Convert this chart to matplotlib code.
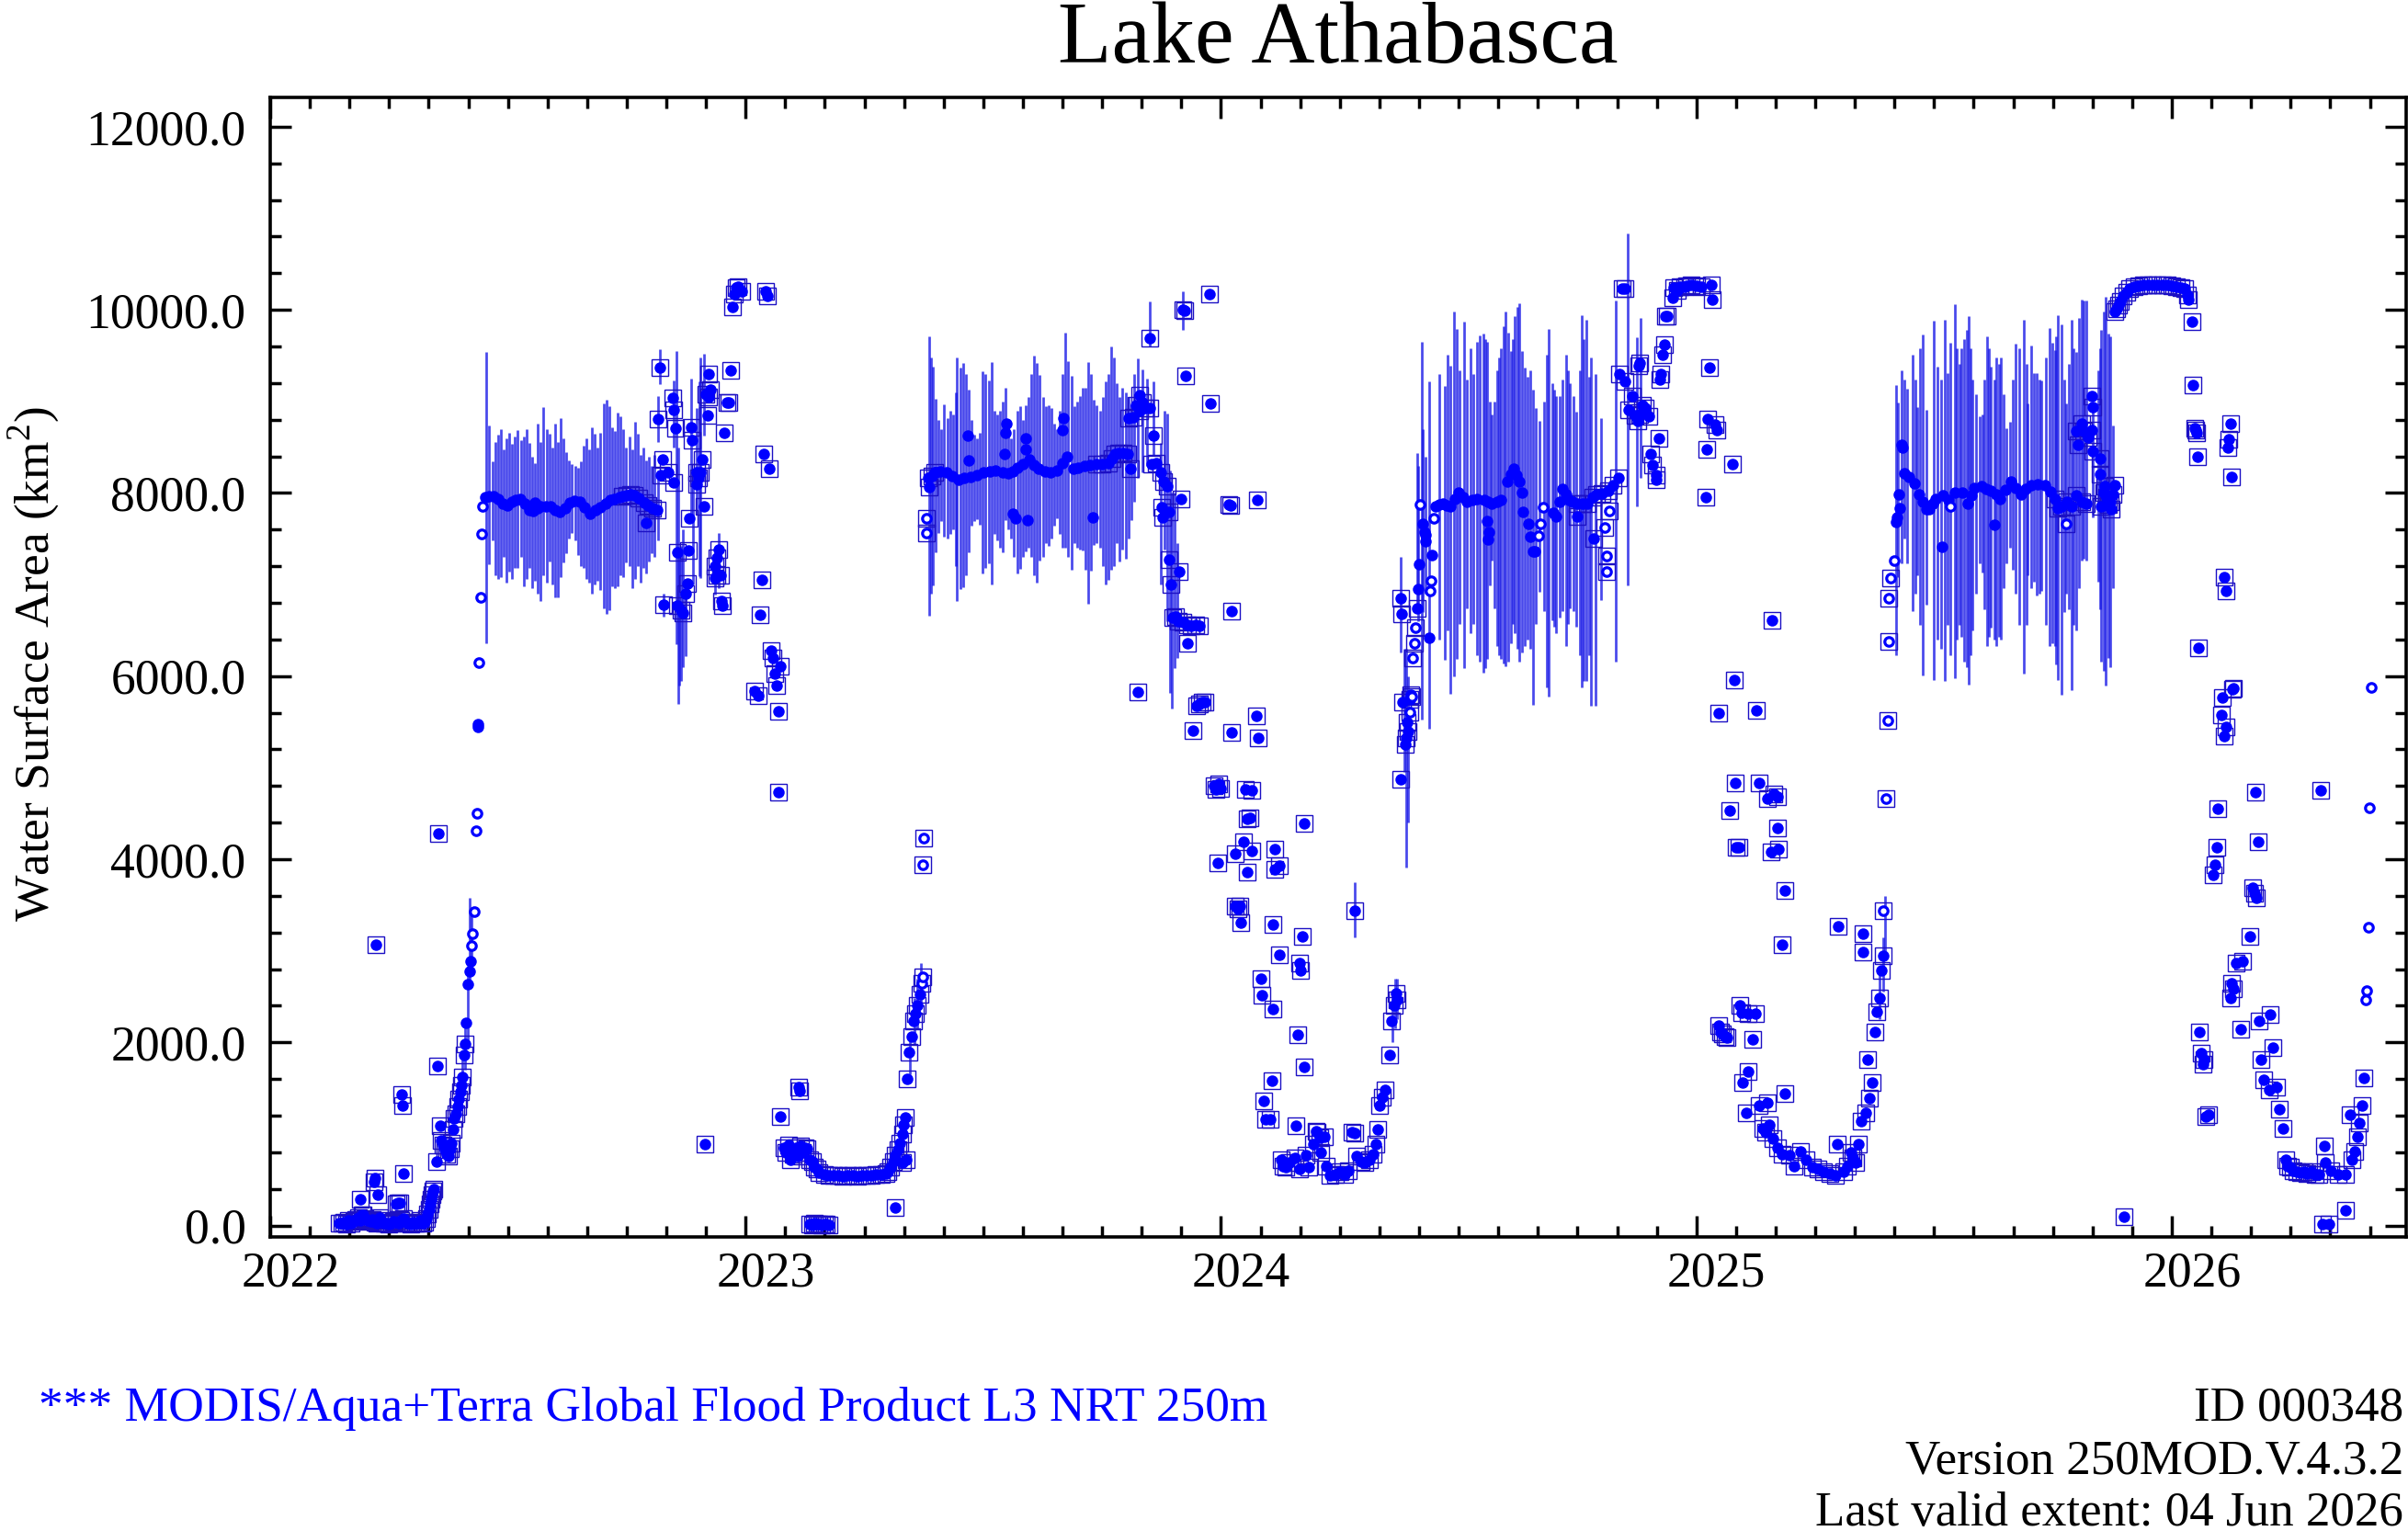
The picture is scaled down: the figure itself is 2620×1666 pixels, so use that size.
import numpy as np
import matplotlib
matplotlib.use("Agg")
import matplotlib.pyplot as plt
from matplotlib.ticker import MultipleLocator, FixedLocator, NullFormatter
from matplotlib.transforms import ScaledTranslation

plt.rcParams['font.family'] = ['Liberation Serif', 'DejaVu Serif']
plt.rcParams['mathtext.fontset'] = 'custom'
plt.rcParams['mathtext.rm'] = 'Liberation Serif'

BASE_YEAR = 2022
YEAR_TICKS = [2022, 2023, 2024, 2025, 2026]
AREA_TICKS = [0, 2000, 4000, 6000, 8000, 10000, 12000]

# Spread of each daily extent: (years after base, upper, lower) in km2
bars_2022 = [
 (.455,9540,6360),(.461,8740,7220),(.467,8350,7480),(.473,8560,7100),(.479,8640,7060),(.485,8700,7080),
 (.491,8480,7300),(.497,8600,7020),(.503,8660,7140),(.509,8540,7060),(.515,8620,7180),(.521,8690,7180),
 (.527,8580,7300),(.533,8620,6980),(.539,8700,7060),(.545,8550,7180),(.551,8400,6960),(.557,8330,7040),
 (.563,8760,6900),(.569,8560,6820),(.575,8940,7100),(.581,8700,7020),(.587,8650,7250),(.593,8500,7000),
 (.599,8760,6860),(.605,8560,6860),(.611,8820,7080),(.617,8600,7240),(.623,8450,7340),(.629,8360,7500),
 (.635,8320,7560),(.641,8300,7480),(.647,8280,7320),(.653,8350,7200),(.659,8520,7180),(.665,8600,7060),
 (.671,8480,7020),(.677,8720,6900),(.683,8650,7000),(.689,8500,7040),(.695,8660,6940),(.701,8980,6740),
 (.707,9020,6680),(.713,8950,6720),(.719,8720,6980),(.725,8680,6960),(.731,8880,6980),(.737,8840,7100),
 (.743,8700,7080),(.749,8500,7240),(.755,8620,7200),(.761,8480,6960),(.767,8780,7060),(.773,8650,7200),
 (.779,8420,7020),(.785,8500,7180),(.791,8360,7120),(.797,8400,7250),(.803,8300,7340),(.809,8420,7300),
 (.815,8250,7480),(.819,9568,9190),(.816,9060,8560),(.827,6900,6650),(.849,9230,8500),(.855,9555,6350),
 (.859,8500,5700),(.861,7300,5900),(.865,7420,5950),(.869,7600,6100),(.873,7020,6220),(.885,9250,7690),
 (.89,8200,7000),(.897,8930,7760),(.903,9215,7090),(.905,9480,7075),(.912,9520,8630),(.936,7160,6890),
 (.944,7560,6960),
]

bars_2023 = [
 (1.387,9708,6660),(1.391,9484,6904),(1.394,9383,6988),(1.400,9032,7357),(1.406,8800,7560),(1.412,8700,7692),
 (1.418,8965,7524),(1.424,8820,7500),(1.430,8898,7550),(1.436,8860,7600),(1.442,9100,7200),(1.445,9484,6821),
 (1.451,9367,6955),(1.457,9417,6971),(1.463,9300,7100),(1.469,9132,7357),(1.475,8800,7640),(1.481,8640,7692),
 (1.487,8600,7710),(1.493,8660,7650),(1.499,9333,7122),(1.505,9300,7180),(1.511,9230,7230),(1.517,9434,7005),
 (1.523,8900,7550),(1.529,8860,7480),(1.535,8900,7400),(1.541,9000,7350),(1.547,9149,7700),(1.553,8800,7600),
 (1.559,8600,7500),(1.565,8700,7300),(1.571,8900,7120),(1.577,8950,7170),(1.583,8800,7300),(1.589,8960,7360),
 (1.595,9050,7400),(1.601,9300,7300),(1.607,9500,7100),(1.613,9420,7022),(1.619,9290,7260),(1.625,9050,7300),
 (1.631,8950,7450),(1.637,8960,7420),(1.643,8930,7500),(1.649,8760,7640),(1.655,8700,7720),(1.661,8900,7550),
 (1.667,9300,7400),(1.673,9752,7400),(1.679,9440,7300),(1.685,9280,7160),(1.691,8950,7450),(1.697,9000,7400),
 (1.703,9060,7380),(1.709,9150,7370),(1.715,9150,7160),(1.721,9430,6787),(1.727,9300,7150),(1.733,9020,7430),
 (1.739,8960,7450),(1.745,8900,7400),(1.751,9050,7200),(1.757,9220,7000),(1.763,9300,7050),(1.769,9600,7160),
 (1.775,9480,7200),(1.781,9200,7450),(1.787,9050,7250),(1.793,9150,7380),(1.799,9100,7280),(1.805,9050,7500),
 (1.811,8970,7700),(1.817,9300,7900),(1.825,9467,8160),(1.835,9350,8230),(1.845,9250,8300),(1.851,10090,9600),
 (1.858,9220,8410),(1.874,8550,7000),(1.881,8900,7380),(1.887,8870,6600),(1.893,8250,5816),(1.897,8000,5648),
 (1.903,8000,6084),(1.909,7450,6200),(1.92,10200,9780),
]

bars_2024 = [
 (2.377,7300,6260),(2.386,6295,4950),(2.389,6300,3910),(2.393,6000,4400),(2.412,8440,6744),(2.415,8300,6600),
 (2.422,9650,5530),(2.425,8700,6700),(2.431,8400,6900),(2.437,9220,5430),
 (2.460,9304,6398),(2.470,9166,6173),(2.476,9512,6500),(2.483,9390,5810),(2.491,9979,6000),(2.496,9789,6190),
 (2.502,9339,6571),(2.511,9875,6087),(2.518,9235,6744),(2.525,9581,6467),(2.531,9304,6571),(2.538,9650,6225),
 (2.544,9720,6156),(2.551,9737,6035),(2.556,9685,6087),(2.560,9650,6190),(2.565,8993,6986),(2.570,8855,7263),
 (2.575,8993,6744),(2.580,9339,6329),(2.584,9477,6225),(2.589,9581,6190),(2.594,9823,6138),(2.599,9979,6104),
 (2.604,9754,6156),(2.609,9546,6363),(2.614,9685,6570),(2.618,9927,6467),(2.623,10031,6295),(2.627,10072,6156),
 (2.633,9546,6260),(2.638,9374,6329),(2.644,9270,6400),(2.650,9339,6294),(2.657,9131,5689),(2.663,8930,6570),
 (2.670,8785,6917),(2.680,8993,6710),(2.686,9512,5880),(2.690,9789,5775),(2.696,9200,6606),(2.700,9130,6540),
 (2.705,9062,6467),(2.712,9062,6640),(2.718,9235,6709),(2.725,9512,6329),(2.730,9339,6570),(2.734,9200,6744),
 (2.741,9062,6710),(2.747,8889,6536),(2.754,9339,6225),(2.759,9944,5879),(2.763,9685,5948),(2.768,9892,5948),
 (2.774,9270,6225),(2.779,9477,5671),(2.787,9304,5671),(2.799,8820,6830),(2.830,10100,6156),(2.855,10830,6990),
 (2.875,9702,7851),(2.882,9910,8163),
]

bars_2025 = [
 (3.42,9176,6228),(3.423,8990,7080),(3.432,9343,7233),(3.437,9243,7500),(3.444,9143,7233),(3.455,9511,6714),
 (3.46,9243,6898),(3.465,8941,7099),(3.471,9578,6563),(3.476,9729,6010),(3.483,8908,6780),(3.5,9879,5960),
 (3.507,9377,6395),(3.515,9243,6295),(3.522,9896,5943),(3.529,9310,6563),(3.534,9645,6228),(3.543,10064,5977),
 (3.548,9578,6395),(3.553,9410,6563),(3.558,9578,6429),(3.564,9678,6161),(3.569,9779,6094),(3.573,9930,5910),
 (3.577,9578,6228),(3.581,9243,6496),(3.588,9075,6898),(3.595,8841,7233),(3.602,8858,7132),(3.606,9243,6730),
 (3.611,9712,6328),(3.615,9578,6429),(3.62,9377,6529),(3.626,9243,6395),(3.631,9477,6328),(3.636,9410,6429),
 (3.641,9477,6395),(3.647,9075,6965),(3.652,8707,7233),(3.659,8774,7400),(3.666,9243,7166),(3.671,9628,6898),
 (3.68,9578,6563),(3.688,9896,6027),(3.694,9410,6563),(3.697,8975,7099),(3.704,9611,6965),(3.71,9310,7032),
 (3.715,9310,6881),(3.721,9243,6898),(3.726,9226,6931),(3.735,9477,6563),(3.743,9796,6328),(3.749,9645,6362),
 (3.754,9561,6328),(3.757,9712,6127),(3.761,9946,5960),(3.768,9846,5792),(3.773,9243,6697),(3.778,8975,6898),
 (3.784,9410,6730),(3.789,9896,5843),(3.794,9578,6563),(3.799,9544,6496),(3.805,9913,6965),(3.81,10114,7266),
 (3.815,10097,7283),(3.82,10097,7266),(3.834,8908,7735),(3.845,9343,7032),(3.849,9578,6730),(3.852,9779,6161),
 (3.857,9980,6060),(3.861,10147,5893),(3.866,9745,6194),(3.87,9712,6094),(3.877,8740,6965),
]

# Narrow spreads on the spring rise of each year
bars_rise = [
 (.405,1900,1400),(.410,2250,1700),(.415,2840,2000),(.42,3580,2600),(.424,3400,2800),
 (1.345,2100,1650),(1.355,2480,1980),(1.362,2700,2150),(1.368,2870,2400),
 (2.36,2500,2000),(2.366,2700,2150),(2.37,2700,2250),(2.281,3750,3150),
 (3.386,2750,2250),(3.392,3150,2550),(3.396,3600,3000),
]

# Boxed, filled observations per season: (years after base, area)
boxed_2022 = [
 (.145,30),(.15,25),(.155,40),(.16,20),(.165,60),(.17,30),(.175,50),(.18,70),(.185,90),(.19,60),(.195,120),(.2,80),
 (.205,60),(.21,50),(.215,70),(.22,40),(.225,30),(.23,60),(.235,40),(.24,30),(.245,25),(.25,20),(.255,30),(.26,50),
 (.265,40),(.27,25),(.275,60),(.28,80),(.285,40),(.29,30),(.295,20),(.3,40),(.305,30),(.31,25),(.315,60),(.32,30),
 (.223,3070),(.354,4280),(.352,1745),(.276,1430),(.278,1315),(.28,565),(.19,290),(.227,340),(.22,515),(.218,480),
 (.268,250),(.264,240),(.272,245),(.193,115),(.23,85),
 (.325,40),(.328,80),(.331,130),(.334,180),(.336,240),(.338,290),(.341,340),(.345,400),(.343,380),(.349,700),
 (.36,930),(.364,880),(.368,830),(.372,780),(.376,760),(.378,840),(.38,900),(.358,1090),(.384,1050),(.387,1165),
 (.39,1220),(.394,1300),(.397,1380),(.4,1465),(.402,1530),(.404,1625),(.408,1860),(.41,1980),
 (.74,7960),(.75,7970),(.757,7980),(.766,7975),(.776,7940),(.786,7890),(.795,7860),(.804,7830),(.814,7810),
 (.79,7675),(.819,9373),(.816,8804),(.826,8362),(.822,8194),(.837,8228),(.849,8110),(.846,9042),(.849,8908),
 (.852,8707),(.827,6780),(.857,7357),(.879,7374),(.877,7012),(.873,6905),(.857,6771),(.865,6720),(.869,6687),
 (.885,8714),(.887,8580),(.882,7725),(.912,7853),(.909,8362),(.897,8228),(.901,8160),(.897,8094),(.905,8228),
 (.923,9300),(.927,9132),(.916,9082),(.922,9048),(.92,8848),(.969,9340),(.956,8657),(.944,7384),(.94,7290),
 (.936,7206),(.94,7105),(.935,7072),(.948,7105),(.95,6820),(.952,6770),(.961,8992),(.965,8992),
 (1.038,8429),(1.049,8261),(1.035,7049),(1.031,6673),(1.053,6278),(1.058,6200),(1.073,6107),(1.062,6023),
 (1.065,5893),(1.019,5833),(1.027,5782),(1.069,5615),(1.043,10204),(1.046,10154),(.972,10027),(.98,10238),
 (.991,10204),(.976,10170),(.985,10250),(.914,890),(1.069,4730),
]

boxed_2023 = [
 (1.073,1190),(1.111,1510),(1.113,1470),(1.08,850),(1.085,800),(1.09,880),(1.095,720),(1.1,780),(1.105,850),
 (1.11,760),(1.115,870),(1.12,800),(1.125,850),(1.13,840),(1.135,720),(1.14,700),(1.145,640),(1.15,620),(1.155,580),
 (1.135,20),(1.14,10),(1.145,25),(1.15,15),(1.155,20),(1.16,10),(1.165,20),(1.17,15),(1.175,10),
 (1.165,560),(1.175,550),(1.185,545),(1.195,550),(1.205,540),(1.215,545),(1.225,550),(1.235,540),(1.245,545),
 (1.255,550),(1.265,545),(1.275,555),(1.285,560),(1.295,570),(1.3,590),(1.305,640),(1.31,700),(1.315,770),(1.32,830),
 (1.325,900),(1.33,1000),(1.333,1100),(1.335,1180),(1.33,690),(1.337,720),(1.315,200),(1.34,1600),(1.344,1890),
 (1.35,2060),(1.354,2230),(1.358,2310),(1.362,2400),(1.366,2520),
 (1.384,8160),(1.387,8060),(1.392,8190),(1.397,8228),
 (1.738,8311),(1.75,8320),(1.764,8328),(1.77,8380),(1.777,8429),(1.785,8440),(1.795,8435),(1.803,8429),(1.809,8261),
 (1.829,9065),(1.841,8931),(1.816,8831),(1.806,8814),(1.851,8931),(1.829,8898),(1.822,8960),(1.835,8990),(1.858,8630),
 (1.864,8328),(1.854,8311),(1.874,8228),(1.88,8127),(1.887,8077),(1.916,7933),(1.876,7843),(1.89,7792),(1.878,7732),
 (1.891,7273),(1.912,7146),(1.894,6998),(1.905,6653),(1.899,6640),(1.91,6600),(1.919,6586),(1.93,6560),(1.938,6553),
 (1.946,6555),(1.954,6553),(1.929,6358),(1.975,10177),(1.92,9997),(1.923,9990),(1.851,9688),(1.926,9276),(1.978,8982),
 (2.077,7926),(2.017,7873),(2.02,7860),(2.022,6714),(1.825,5822),(1.961,5715),(1.948,5680),(1.955,5700),(1.966,5720),
 (2.075,5565),(1.941,5400),
]

boxed_2024 = [
 (2.023,5386),(2.078,5320),(1.985,4800),(1.99,4760),(1.995,4820),(2.0,4770),(2.052,4765),(2.065,4750),(2.175,4396),
 (1.994,3960),(2.03,4060),(2.048,4195),(2.06,4447),(2.056,4440),(2.065,4094),(2.055,3860),(2.113,4110),(2.113,3893),
 (2.123,3926),(2.03,3490),(2.04,3490),(2.035,3460),(2.042,3306),(2.11,3290),(2.171,3155),(2.123,2953),(2.165,2870),
 (2.168,2785),(2.084,2700),(2.087,2517),(2.11,2366),(2.162,2080),(2.175,1728),(2.107,1577),(2.09,1360),(2.094,1158),
 (2.103,1158),(2.158,1090),(2.281,3440),
 (2.126,720),(2.131,650),(2.136,640),(2.145,690),(2.155,740),(2.165,620),(2.178,770),(2.185,640),(2.194,890),(2.2,1030),
 (2.203,1020),(2.207,960),(2.21,800),(2.217,970),(2.222,650),(2.23,550),(2.24,560),(2.25,590),(2.26,560),(2.268,600),
 (2.275,1020),(2.281,1010),(2.286,760),(2.294,700),(2.303,690),(2.313,720),(2.32,780),(2.326,890),(2.33,1050),
 (2.333,1310),(2.34,1400),(2.346,1480),(2.355,1860),(2.359,2230),(2.365,2400),(2.368,2530),(2.37,2460),
 (2.378,4870),(2.388,5256),(2.39,5325),(2.393,5395),(2.391,5500),(2.397,5750),(2.4,5800),(2.382,5713),
 (2.377,6855),(2.379,6682),(2.412,6744),
 (2.75,7886),(2.749,7747),(2.76,7880),(2.77,7886),(2.782,7955),(2.79,7980),(2.802,7990),(2.815,8024),(2.825,8080),
 (2.837,8163),(2.783,7505),(2.844,10232),(2.85,10232),(2.839,9304),(2.85,9218),(2.881,9419),(2.879,9390),(2.932,9616),
 (2.929,9505),(2.926,9298),(2.923,9235),(2.866,9062),(2.857,8906),(2.886,8958),(2.899,8837),(2.876,8785),(2.892,8924),
 (2.87,8850),(2.88,8860),(2.921,8595),(2.904,8422),(2.908,8301),(2.915,8197),(2.915,8145),(2.938,9927),(2.934,9927),
 (2.953,10239),(2.96,10210),(2.966,10250),(2.975,10255),(2.98,10260),(2.989,10273),(3.0,10260),(3.01,10250),(3.031,10273),
 (2.95,10135),(3.034,10117),(3.027,9374),(3.024,8803),(3.04,8751),(3.043,8682),(3.022,8474),(3.076,8315),(3.02,7955),
 (3.159,6613),(3.079,5955),(3.047,5595),(3.126,5630),
]

boxed_2025 = [
 (3.082,4833),(3.131,4833),(3.163,4715),(3.17,4680),(3.15,4660),(3.07,4530),(3.17,4346),(3.089,4128),(3.084,4130),
 (3.157,4077),(3.173,4110),(3.186,3660),(3.18,3070),(3.299,3272),(3.35,2987),(3.35,3188),
 (3.047,2180),(3.05,2110),(3.055,2090),(3.06,2060),(3.065,2050),(3.092,2400),(3.096,2320),(3.108,2315),(3.124,2315),
 (3.118,2030),(3.108,1680),(3.098,1560),(3.105,1225),(3.15,1342),(3.131,1310),(3.186,1443),(3.14,1057),(3.146,1020),
 (3.153,1100),(3.16,950),(3.17,850),(3.18,780),(3.195,770),(3.205,650),(3.218,805),(3.23,720),(3.244,640),(3.255,620),
 (3.267,590),(3.28,570),(3.293,550),(3.296,890),(3.309,590),(3.318,650),(3.325,800),(3.33,740),(3.335,690),(3.34,890),
 (3.347,1140),(3.357,1225),(3.363,1390),(3.37,1560),(3.36,1810),(3.376,2115),(3.38,2330),(3.386,2480),(3.389,2785),(3.393,2950),
 (3.754,7936),(3.761,7836),(3.768,7850),(3.789,7852),(3.78,7900),(3.799,7970),(3.81,7903),(3.82,7880),
 (3.831,9059),(3.833,8941),(3.81,8757),(3.799,8673),(3.831,8690),(3.803,8523),(3.815,8680),(3.825,8610),
 (3.834,8456),(3.849,8372),(3.849,8204),(3.859,8070),(3.88,8087),(3.866,7869),(3.873,7819),(3.852,7852),(3.856,8003),
 (3.862,7950),(3.87,7900),(3.876,7980),
 (3.9,100),(3.88,9980),(3.884,10010),(3.887,10047),(3.892,10090),(3.898,10148),(3.905,10190),(3.912,10231),(3.92,10255),
 (3.93,10265),(3.94,10270),(3.95,10275),(3.96,10275),(3.97,10275),(3.98,10270),(3.99,10270),(4.0,10265),(4.01,10255),
 (4.02,10240),(4.028,10231),(4.035,10114),(4.032,10160),(4.042,9869),(4.044,9176),(4.048,8707),(4.05,8690),(4.053,8656),
 (4.055,8398),(4.123,8757),(4.119,8582),(4.117,8498),(4.126,8171),(4.11,7082),(4.115,6931),(4.057,6312),(4.13,5870),
 (4.127,5860),(4.107,5766),(4.104,5575),(4.11,5340),(4.115,5450),
 (4.097,4547),(4.175,4730),(4.094,4128),(4.091,3943),(4.087,3826),(4.181,4195),(4.171,3690),(4.178,3574),(4.174,3630),
 (4.165,3155),(4.149,2886),(4.136,2870),(4.126,2650),(4.13,2580),(4.123,2483),(4.145,2148),(4.184,2232),(4.207,2300),
 (4.187,1812),(4.213,1946),(4.058,2115),(4.061,1880),(4.068,1812),(4.065,1760),(4.078,1208),(4.072,1190),
 (4.194,1594),(4.204,1477),(4.22,1510),(4.226,1275),(4.233,1057),(4.239,720),(4.244,650),(4.249,638),(4.255,600),
 (4.262,587),(4.27,575),(4.278,587),(4.285,570),(4.294,587),(4.302,560),(4.31,554),(4.323,688),(4.32,872),(4.335,600),
 (4.35,560),(4.365,554),(4.378,721),(4.375,1208),(4.313,4749),(4.317,17),(4.33,17),(4.365,168),(4.385,805),(4.391,973),
 (4.394,1124),(4.4,1309),(4.404,1611),
]

# Observations with no box: plateau tracks and outliers
plain_2022 = [
 (.452,7950),(.46,7960),(.47,7960),(.48,7930),(.49,7880),(.498,7860),(.508,7900),(.516,7925),(.525,7930),(.535,7880),
 (.545,7810),(.552,7800),(.557,7890),(.563,7830),(.569,7850),(.58,7850),(.589,7850),(.6,7810),(.609,7790),(.62,7830),
 (.63,7890),(.64,7910),(.652,7900),(.662,7840),(.672,7775),(.685,7810),(.695,7840),(.705,7880),(.715,7920),(.723,7935),
 (.735,7955),(.4125,2210),(.416,2630),(.419,2775),(.4215,2890),(.436,5450),(.4365,5480),
]

plain_2023 = [
 (1.4,8228),(1.41,8235),(1.423,8228),(1.435,8190),(1.448,8144),(1.46,8160),(1.474,8178),(1.487,8200),(1.5,8228),(1.513,8240),
 (1.526,8245),(1.54,8225),(1.552,8211),(1.562,8240),(1.571,8278),(1.584,8320),(1.597,8362),(1.607,8310),(1.616,8261),
 (1.63,8240),(1.642,8228),(1.655,8245),(1.667,8330),(1.677,8395),(1.69,8261),(1.7,8280),(1.713,8295),(1.725,8305),
 (1.468,8623),(1.47,8352),(1.548,8757),(1.547,8653),(1.544,8429),(1.59,8596),(1.59,8479),(1.669,8814),(1.667,8690),
 (1.563,7775),(1.568,7725),(1.593,7708),(1.73,7735),
]

plain_2024 = [
 (2.414,6952),(2.417,7218),(2.424,7661),(2.428,7574),(2.431,7540),(2.43,7470),(2.444,7325),(2.437,6422),
 (2.451,7851),(2.459,7870),(2.467,7886),(2.475,7860),(2.483,7851),(2.492,7930),(2.5,8007),(2.51,7950),(2.518,7903),
 (2.528,7920),(2.538,7938),(2.554,7920),(2.562,7900),(2.57,7886),(2.58,7900),(2.589,7920),(2.602,8128),(2.609,8210),
 (2.615,8266),(2.622,8200),(2.628,8128),(2.634,8007),(2.56,7696),(2.564,7574),(2.562,7488),(2.636,7792),(2.647,7661),
 (2.65,7522),(2.657,7367),(2.66,7360),(2.699,7782),(2.705,7747),(2.712,7900),(2.718,8042),(2.725,7980),(2.731,7920),(2.74,7900),
]

plain_2025 = [
 (3.42,7685),(3.422,7735),(3.427,7836),(3.425,7987),(3.432,8529),(3.434,8500),(3.437,8211),(3.448,8171),(3.458,8104),
 (3.469,7987),(3.476,7900),(3.483,7819),(3.49,7819),(3.497,7880),(3.504,7936),(3.518,7970),(3.53,7920),(3.543,8003),
 (3.56,8003),(3.571,7886),(3.578,7970),(3.585,8054),(3.599,8070),(3.61,8045),(3.62,8020),(3.63,7980),(3.638,7936),
 (3.65,8030),(3.662,8120),(3.672,8050),(3.683,7987),(3.693,8040),(3.704,8087),(3.718,8090),(3.733,8087),(3.744,8010),
 (3.516,7414),(3.627,7652),
]

# Ring markers: observations flagged as less certain
rings_plain = [
 (.4235,3060),(.426,3190),(.429,3430),(.4335,4310),(.4345,4500),(.4385,6150),(.4425,6860),(.4445,7550),(.4465,7850),
 (2.418,7875),(2.448,7720),(2.442,7045),(2.44,6927),(2.667,7533),(2.671,7661),(2.678,7841),
 (3.416,7266),(3.534,7853),(4.42,5876),(4.413,3255),(4.416,4564),(4.41,2567),(4.407,2467),
]

rings_boxed = [
 (1.37,2640),(1.372,2720),(1.373,3940),(1.375,4230),(1.38,7560),(1.38,7720),
 (2.409,6530),(2.406,6356),(2.404,6197),(2.401,5775),(2.397,5609),
 (2.811,7315),(2.811,7142),(2.808,7626),(2.816,7799),
 (3.393,3440),(3.399,4660),(3.402,5520),(3.405,6379),(3.405,6848),(3.409,7072),(3.778,7668),
]


def columns(*rows):
    merged = np.array([r for group in rows for r in group], dtype=float)
    return [merged[:, i] for i in range(merged.shape[1])]


W, H = 2620, 1666
fig = plt.figure(figsize=(W / 100, H / 100), dpi=100, facecolor='white')
ax = fig.add_axes([294 / W, 1 - 1346 / H, (2618 - 294) / W, (1346 - 106) / H])

bar_t, bar_hi, bar_lo = columns(bars_2022, bars_2023, bars_2024, bars_2025, bars_rise)
ax.vlines(BASE_YEAR + bar_t, bar_lo, bar_hi, colors='#1414e6', linewidth=1.95, alpha=0.78, zorder=2)

box_t, box_v = columns(boxed_2022, boxed_2023, boxed_2024, boxed_2025)
ring_box_t, ring_box_v = columns(rings_boxed)
ax.plot(np.r_[box_t, ring_box_t] + BASE_YEAR, np.r_[box_v, ring_box_v], ls='none', marker='s',
        ms=12.4, mfc='none', mec='#1c10c4', mew=1.0, zorder=3)

plain_t, plain_v = columns(plain_2022, plain_2023, plain_2024, plain_2025)
ax.plot(np.r_[box_t, plain_t] + BASE_YEAR, np.r_[box_v, plain_v], ls='none', marker='o',
        ms=9.0, mfc='#0000ff', mec='#0000ff', mew=0, zorder=4)

ring_t, ring_v = columns(rings_plain, rings_boxed)
ax.plot(ring_t + BASE_YEAR, ring_v, ls='none', marker='o', ms=6.8, mfc='white',
        mec='#0000ff', mew=2.3, zorder=5)

ax.set_xlim(2022, 2026.493)
ax.set_ylim(-125, 12320)

ax.xaxis.set_major_locator(FixedLocator(YEAR_TICKS))
ax.xaxis.set_minor_locator(MultipleLocator(1 / 12))
ax.yaxis.set_major_locator(FixedLocator(AREA_TICKS))
ax.yaxis.set_minor_locator(MultipleLocator(400))
ax.xaxis.set_minor_formatter(NullFormatter())
ax.yaxis.set_minor_formatter(NullFormatter())
ax.set_yticklabels([f'{v:.1f}' for v in AREA_TICKS])
ax.set_xticklabels([str(y) for y in YEAR_TICKS])

ax.tick_params(which='major', direction='in', length=16.5, width=2.5, top=True, right=True,
               labelsize=38.6, pad=19)
ax.tick_params(which='minor', direction='in', length=8.6, width=2.5, top=True, right=True)
ax.tick_params(axis='x', which='major', pad=11)
for spine in ax.spines.values():
    spine.set_linewidth(2.6)

# Year labels sit over the middle of January rather than on the tick
shift = ScaledTranslation(22 / 100, 0, fig.dpi_scale_trans)
for label in ax.get_xticklabels():
    label.set_transform(label.get_transform() + shift)

fig.text(1456 / W, 1 - 68 / H, 'Lake Athabasca', fontsize=69, ha='center', va='baseline', color='black')
fig.text(53 / W, 1 - 722 / H, r'Water Surface Area (km$^{\mathrm{2}}$)', fontsize=38.4, rotation=90,
         ha='center', va='baseline', rotation_mode='anchor', color='black')
fig.text(42 / W, 1 - 1546 / H, '*** MODIS/Aqua+Terra Global Flood Product L3 NRT 250m', fontsize=38.4,
         ha='left', va='baseline', color='#0000ff')
fig.text(2615 / W, 1 - 1546 / H, 'ID 000348', fontsize=38.2, ha='right', va='baseline', color='black')
fig.text(2615 / W, 1 - 1604 / H, 'Version 250MOD.V.4.3.2', fontsize=38.2, ha='right', va='baseline', color='black')
fig.text(2615 / W, 1 - 1660 / H, 'Last valid extent: 04 Jun 2026', fontsize=38.2, ha='right', va='baseline', color='black')

fig.savefig('out.png', dpi=100, facecolor='white')
